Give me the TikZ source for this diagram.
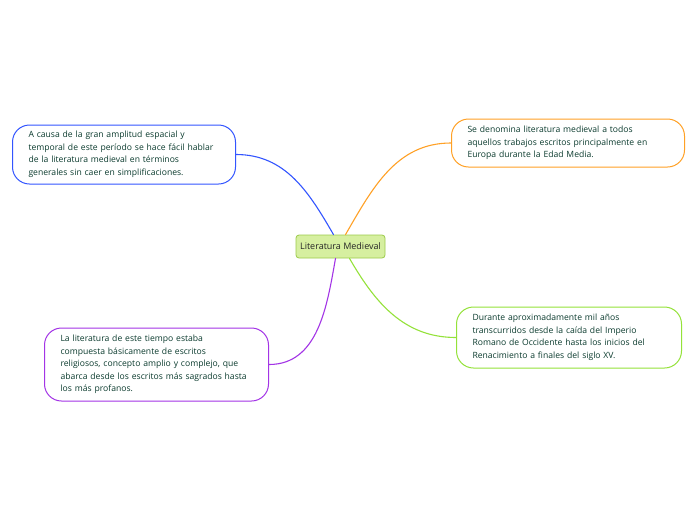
\documentclass[tikz,border=0pt]{standalone}
\usepackage{fontspec}
\setmainfont{Open Sans}
\definecolor{txtgreen}{HTML}{0B3B2E}
\definecolor{brblue}{HTML}{3355FF}
\definecolor{brorange}{HTML}{FFA126}
\definecolor{brgreen}{HTML}{94E23A}
\definecolor{brpurple}{HTML}{A334E6}
\definecolor{rootfill}{HTML}{D6EFA0}
\definecolor{rootline}{HTML}{9CCB4A}
\tikzset{
  topic/.style={draw, line width=1pt, rounded corners=17pt, fill=white,
    text=txtgreen, align=left, font=\fontsize{8.6}{12.5}\selectfont,
    inner xsep=16pt, inner ysep=0pt, anchor=west},
  branch/.style={line width=1.1pt},
}
\begin{document}
\begin{tikzpicture}[x=1pt, y=-1pt, line cap=round, line join=round]
  \useasboundingbox[fill=white] (0,0) rectangle (696,520);

  % centro
  \node[draw=rootline, fill=rootfill, rounded corners=3pt, line width=0.8pt,
    minimum width=89pt, minimum height=23pt, inner sep=2pt,
    font=\fontsize{9}{10}\selectfont, text=black!85] (lit) at (340.5,246.5) {Literatura Medieval};

  % ramas
  \node[topic, draw=brblue, text width=191pt, minimum height=59pt] (causa) at (12,154.5)
    {A causa de la gran amplitud espacial y\\
     temporal de este período se hace fácil hablar\\
     de la literatura medieval en términos\\
     generales sin caer en simplificaciones.};
  \node[topic, draw=brorange, text width=201pt, minimum height=48pt] (denomina) at (451,143)
    {Se denomina literatura medieval a todos\\
     aquellos trabajos escritos principalmente en\\
     Europa durante la Edad Media.};
  \node[topic, draw=brgreen, text width=193pt, minimum height=61pt] (durante) at (456,337.5)
    {Durante aproximadamente mil años\\
     transcurridos desde la caída del Imperio\\
     Romano de Occidente hasta los inicios del\\
     Renacimiento a finales del siglo XV.};
  \node[topic, draw=brpurple, text width=192pt, minimum height=73pt] (tiempo) at (44,364.5)
    {La literatura de este tiempo estaba\\
     compuesta básicamente de escritos\\
     religiosos, concepto amplio y complejo, que\\
     abarca desde los escritos más sagrados hasta\\
     los más profanos.};

  % conectores
  \draw[branch, brblue] (causa.east) to[out=0, in=120] ([xshift=-7pt]lit.north);
  \draw[branch, brorange] (denomina.west) to[out=180, in=60] ([xshift=5pt]lit.north);
  \draw[branch, brgreen] ([xshift=9pt]lit.south) to[out=-60, in=180] (durante.west);
  \draw[branch, brpurple] ([xshift=-5pt]lit.south) to[out=-100, in=0] (tiempo.east);
\end{tikzpicture}
\end{document}
